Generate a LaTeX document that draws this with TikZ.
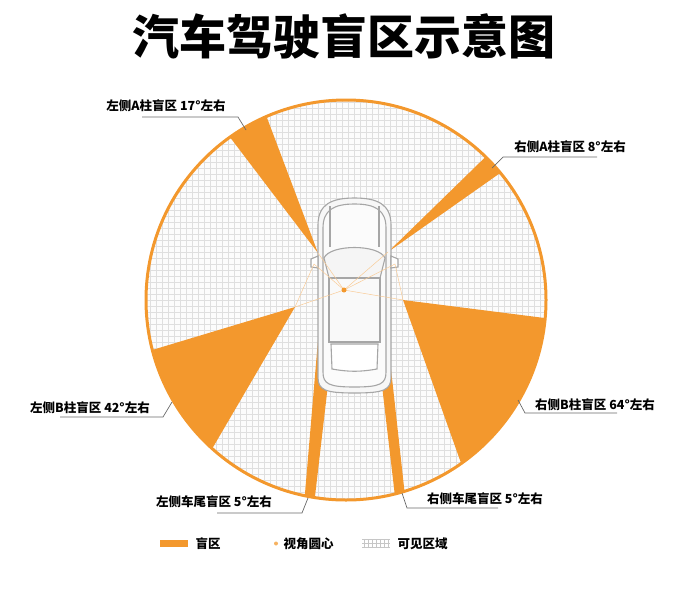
\documentclass[tikz,border=0pt]{standalone}
\usepackage{fontspec}
\setmainfont{Noto Sans CJK SC}
\usepackage{tikz}
\usetikzlibrary{positioning}
\definecolor{blindorange}{RGB}{243,152,45}
\definecolor{leadgray}{RGB}{105,105,105}
\tikzstyle{blind}=[fill=blindorange,draw=none]
\tikzstyle{leader}=[draw=leadgray,line width=0.7]
\tikzstyle{tag}=[inner sep=0pt,font=\bfseries\fontsize{12.5}{14}\selectfont]
\tikzstyle{sight}=[draw=blindorange!50,line width=0.5]
\tikzstyle{carline}=[draw=gray!70,line width=1.1]
\tikzset{every picture/.style={
    line width=0.6
  }
}

\begin{document}
\begin{tikzpicture}[x=1pt,y=-1pt]
      \useasboundingbox (0,0) rectangle (692,592);
      \node[font=\bfseries\fontsize{47}{50}\selectfont] at (344,36) (title) {汽车驾驶盲区示意图};
      \coordinate (ctr) at (346,300);
      % field of view with blind zones
      \begin{scope}
        \clip (ctr) circle (200);
        \fill[gray!2] (ctr) circle (200);
        \draw[gray!25,line width=0.3,step=6pt] (140,94) grid (552,506);
        \fill[blind] (318,253) -- (204,103) -- (252,78) -- cycle;
        \fill[blind] (388,252) -- (511,132) -- (530,152) -- cycle;
        \fill[blind] (295,307) -- (109,363) -- (188,490) -- cycle;
        \fill[blind] (403,300) -- (584,323) -- (477,508) -- cycle;
        \fill[blind] (318,340) -- (327,340) -- (327,393) -- (314,505) -- (304,505) -- cycle;
        \fill[blind] (379,360) -- (390,360) -- (406,505) -- (396,505) -- cycle;
      \end{scope}
      \draw[blindorange,line width=3] (ctr) circle (200);
      % car
      \draw[carline,fill=gray!6] (318,260) -- (318,225) .. controls (318,204) and (332,198) .. (354.5,198)
        .. controls (377,198) and (391,204) .. (391,225) -- (391,377) .. controls (391,390) and (384,393) .. (354.5,393)
        .. controls (325,393) and (318,390) .. (318,377) -- cycle;
      \draw[carline,fill=gray!3] (323,262) -- (323,228) .. controls (323,210) and (334,204) .. (354.5,204)
        .. controls (375,204) and (386,210) .. (386,228) -- (386,372) .. controls (386,384) and (380,387) .. (354.5,387)
        .. controls (329,387) and (323,384) .. (323,372) -- cycle;
      \draw[carline] (330,206) -- (330,247);
      \draw[carline] (379,206) -- (379,247);
      \draw[carline,fill=gray!8] (324,258) .. controls (330,244) and (379,244) .. (385,258)
        -- (380,278) -- (329,278) -- cycle;
      \draw[carline,fill=gray!5] (329,278) -- (380,278) -- (380,342) -- (329,342) -- cycle;
      \draw[carline,fill=white] (331,344) -- (378,344) -- (377,369) .. controls (360,372) and (349,372) .. (332,369) -- cycle;
      \draw[carline,fill=white] (318,256) -- (311,259) -- (311,267) -- (318,268) -- cycle;
      \draw[carline,fill=white] (391,256) -- (398,259) -- (398,267) -- (391,268) -- cycle;
      % sight lines
      \coordinate (eye) at (344,290);
      \coordinate (mirL) at (314,264);
      \coordinate (mirR) at (395,264);
      \coordinate (apL) at (318,253);
      \coordinate (apR) at (388,252);
      \coordinate (bpL) at (295,307);
      \coordinate (bpR) at (403,300);
      \draw[sight] (eye) -- (apL);
      \draw[sight] (eye) -- (apR);
      \draw[sight] (eye) -- (mirL);
      \draw[sight] (eye) -- (mirR);
      \draw[sight] (eye) -- (bpL);
      \draw[sight] (eye) -- (bpR);
      \draw[sight] (mirL) -- (bpL);
      \draw[sight] (mirR) -- (bpR);
      \fill[blindorange] (eye) circle (2.5);
      % labels
      \node[tag] at (166,106) (tagLA) {左侧A柱盲区 17°左右};
      \node[tag] at (570,147) (tagRA) {右侧A柱盲区 8°左右};
      \node[tag] at (90,408) (tagLB) {左侧B柱盲区 42°左右};
      \node[tag] at (595,405) (tagRB) {右侧B柱盲区 64°左右};
      \node[tag] at (214,502) (tagLR) {左侧车尾盲区 5°左右};
      \node[tag] at (485,499) (tagRR) {右侧车尾盲区 5°左右};
      \coordinate (tipLA) at (246,130);
      \coordinate (tipRA) at (492,168);
      \coordinate (tipLB) at (172,402);
      \coordinate (tipRB) at (518,400);
      \coordinate (tipLR) at (308,498);
      \coordinate (tipRR) at (402,493);
      \draw[leader] (tipLA) -- (238,117) -- (142,117);
      \draw[leader] (tipRA) -- (503,157) -- (597,157);
      \draw[leader] (tipLB) -- (163,417) -- (60,417);
      \draw[leader] (tipRB) -- (525,413) -- (617,413);
      \draw[leader] (tipLR) -- (302,513) -- (217,513);
      \draw[leader] (tipRR) -- (407,508) -- (498,508);
      % legend
      \node[blind,minimum width=28,minimum height=7,inner sep=0pt] at (174,543.5) (keyblind) {};
      \node[tag,right=7pt of keyblind] (keyblindtxt) {盲区};
      \node[circle,fill=blindorange!75,inner sep=0pt,minimum size=4] at (276,543.5) (keyeye) {};
      \node[tag,right=5pt of keyeye] (keyeyetxt) {视角圆心};
      \node[minimum width=28,minimum height=9,inner sep=0pt,path picture={
          \draw[gray!45,line width=0.3] (path picture bounding box.south west) grid[step=4pt] (path picture bounding box.north east);
        }] at (376,543.5) (keygrid) {};
      \node[tag,right=7pt of keygrid] (keygridtxt) {可见区域};
    \end{tikzpicture}
\end{document}
